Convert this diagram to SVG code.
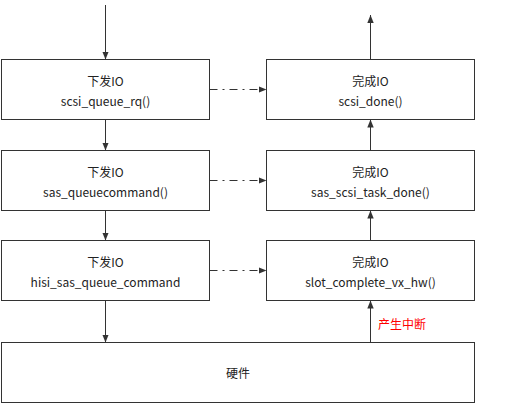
<svg xmlns="http://www.w3.org/2000/svg" width="522" height="403" viewBox="0 0 522 403">
<style>
.box{fill:#fff;stroke:#333;stroke-width:1}
.t{font-family:"Noto Sans CJK SC","Noto Sans",sans-serif;font-size:12px;fill:#222;text-anchor:middle}
.c{stroke:#333;stroke-width:1;fill:none}
.d{stroke:#333;stroke-width:1;fill:none;stroke-dasharray:8 5 2 5}
</style>
<defs>
<marker id="a" viewBox="0 0 8 8" refX="8" refY="4" markerWidth="8" markerHeight="8" markerUnits="userSpaceOnUse" orient="auto">
<path d="M0,0.8 L8,4 L0,7.2 Z" fill="#333"/>
</marker>
</defs>
<rect width="522" height="403" fill="#fff"/>
<g id="n1"><rect class="box" x="1.5" y="59.5" width="208" height="60"/><text class="t" x="105.5" y="86">下发IO</text><text class="t" x="105.5" y="106">scsi_queue_rq()</text></g>
<g id="n2"><rect class="box" x="1.5" y="150.5" width="208" height="60"/><text class="t" x="105.5" y="177">下发IO</text><text class="t" x="105.5" y="197">sas_queuecommand()</text></g>
<g id="n3"><rect class="box" x="1.5" y="240.5" width="208" height="60"/><text class="t" x="105.5" y="267">下发IO</text><text class="t" x="105.5" y="287">hisi_sas_queue_command</text></g>
<g id="n4"><rect class="box" x="266.5" y="59.5" width="208" height="60"/><text class="t" x="370.5" y="86">完成IO</text><text class="t" x="370.5" y="106">scsi_done()</text></g>
<g id="n5"><rect class="box" x="266.5" y="150.5" width="208" height="60"/><text class="t" x="370.5" y="177">完成IO</text><text class="t" x="370.5" y="197">sas_scsi_task_done()</text></g>
<g id="n6"><rect class="box" x="266.5" y="240.5" width="208" height="60"/><text class="t" x="370.5" y="267">完成IO</text><text class="t" x="370.5" y="287">slot_complete_vx_hw()</text></g>
<g id="n7"><rect class="box" x="1.5" y="342.5" width="473" height="60"/><text class="t" x="238" y="378">硬件</text></g>
<g id="connectors">
<path class="c" d="M105.5,5 V59.5" marker-end="url(#a)"/>
<path class="c" d="M105.5,119.5 V150.5" marker-end="url(#a)"/>
<path class="c" d="M105.5,210.5 V240.5" marker-end="url(#a)"/>
<path class="c" d="M105.5,300.5 V342.5" marker-end="url(#a)"/>
<path class="c" d="M370.5,342.5 V300.5" marker-end="url(#a)"/>
<path class="c" d="M370.5,240.5 V210.5" marker-end="url(#a)"/>
<path class="c" d="M370.5,150.5 V119.5" marker-end="url(#a)"/>
<path class="c" d="M370.5,59.5 V15" marker-end="url(#a)"/>
<path class="d" d="M209.5,89.5 H266.5" marker-end="url(#a)"/>
<path class="d" d="M209.5,180.5 H266.5" marker-end="url(#a)"/>
<path class="d" d="M209.5,270.5 H266.5" marker-end="url(#a)"/>
<text x="378" y="329" style="font-family:'Noto Sans CJK SC','Noto Sans',sans-serif;font-size:12px;fill:#ff0000">产生中断</text>
</g>
</svg>
